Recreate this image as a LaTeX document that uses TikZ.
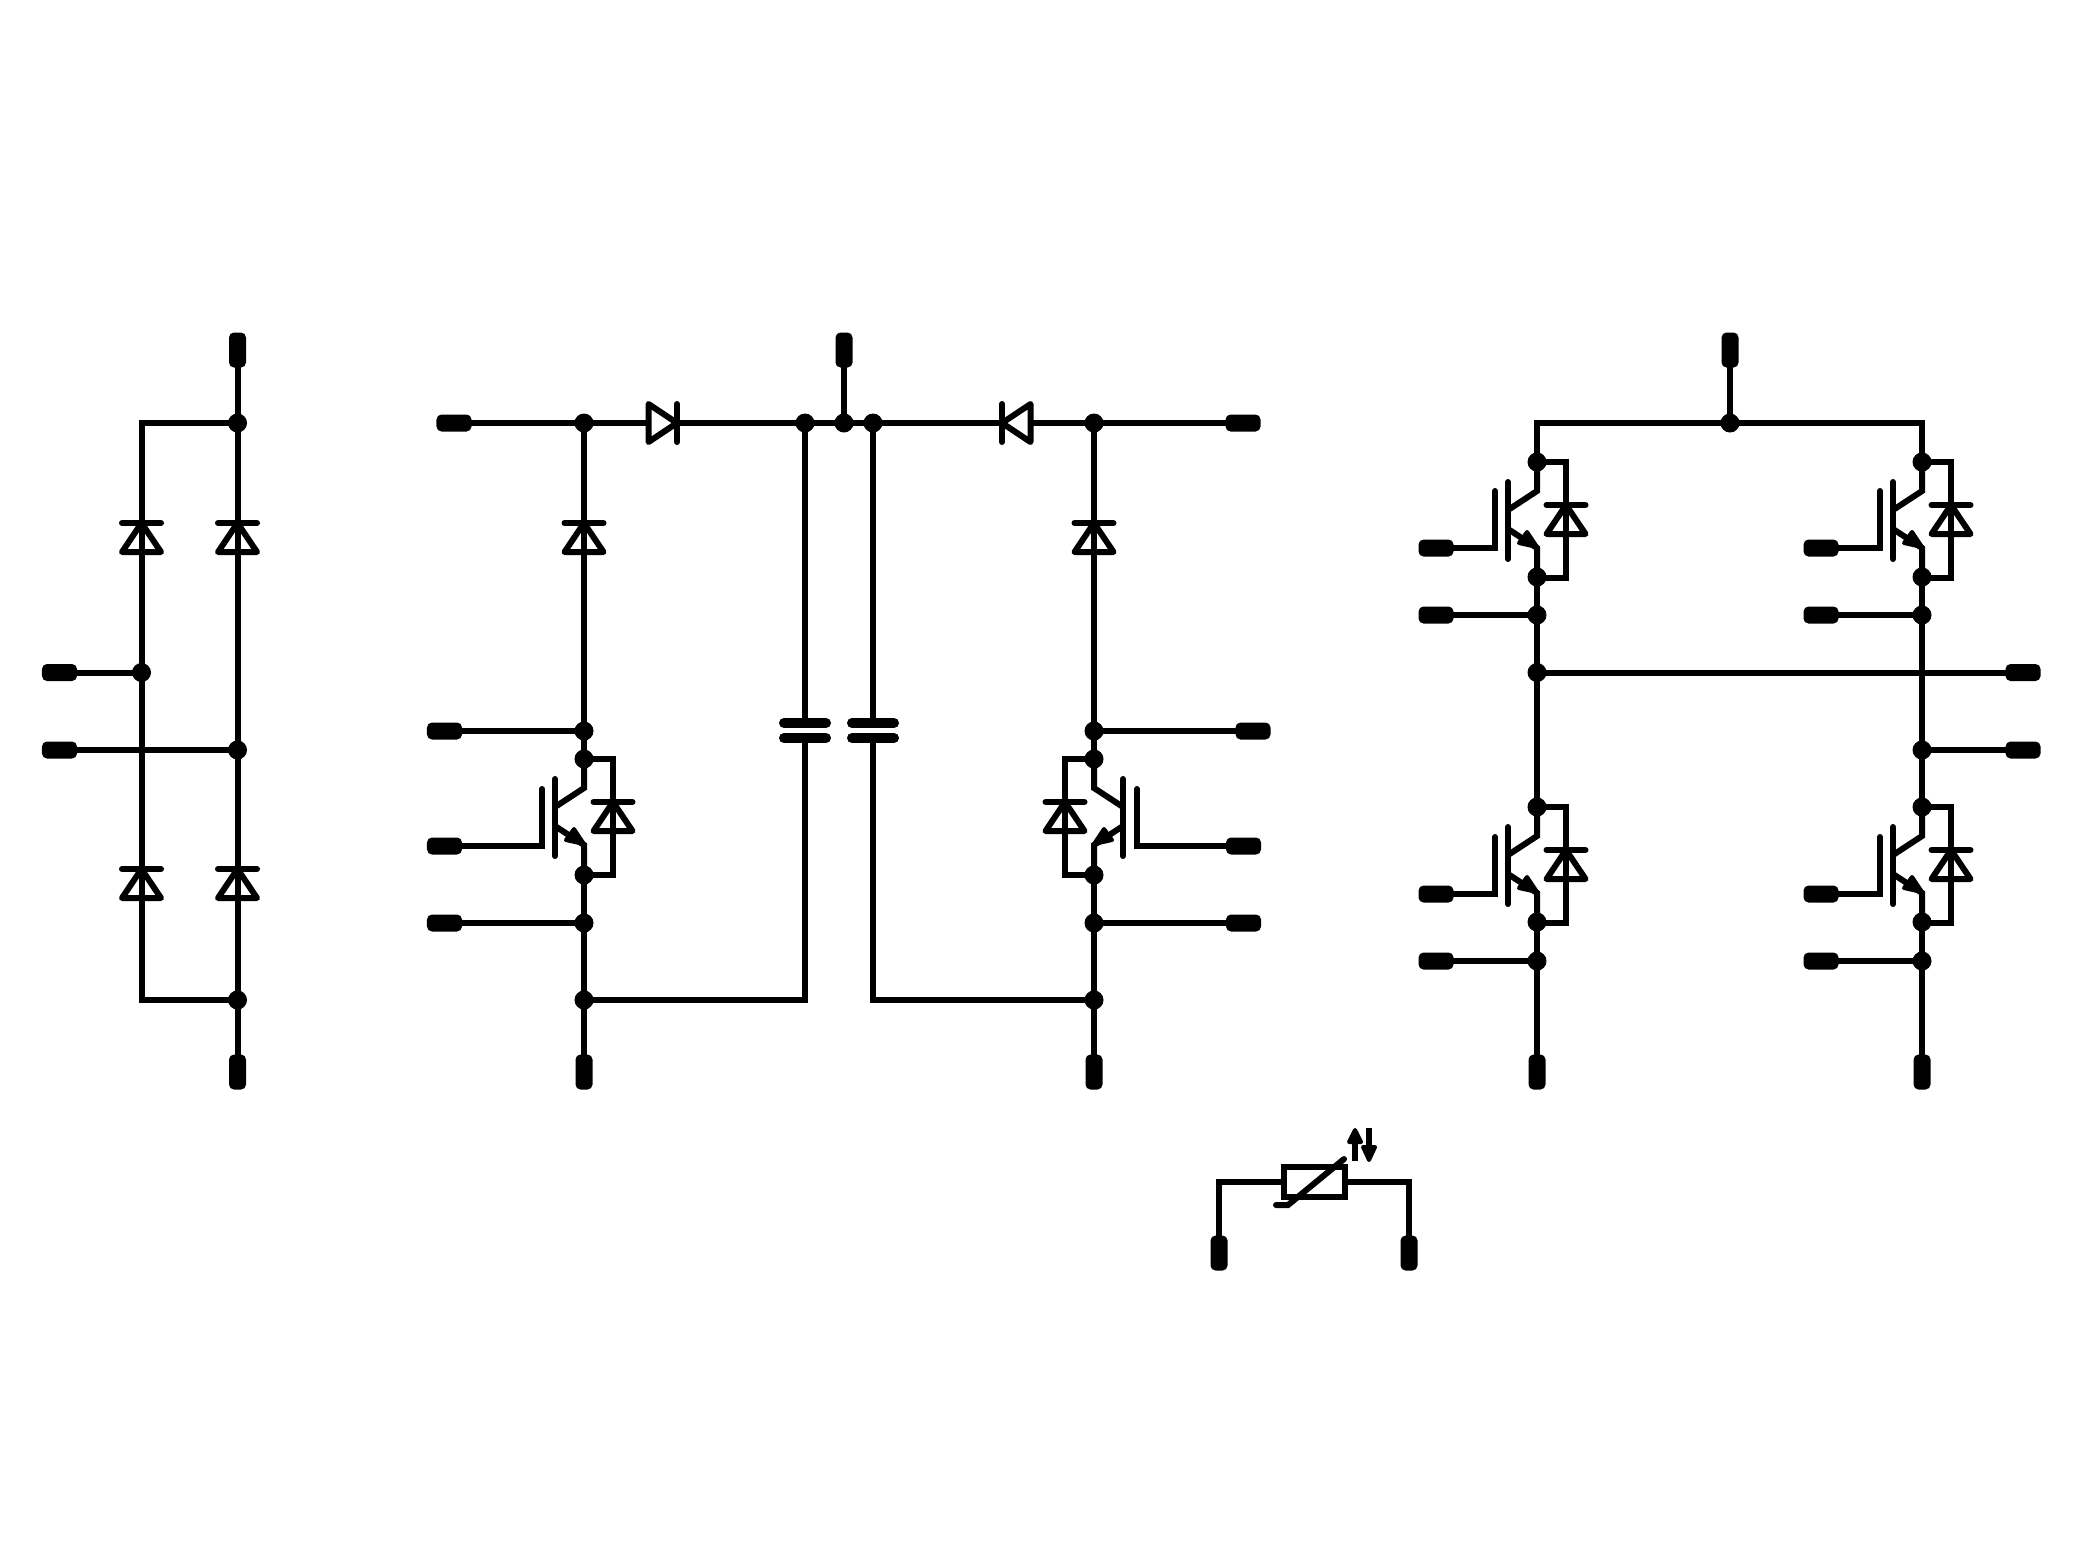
\documentclass[tikz,border=0pt]{standalone}
\usepackage{tikz}
\tikzset{
  x=0.01cm, y=-0.01cm,
  wire/.style={line width=0.06cm, black, line join=miter},
  dot/.style={circle, fill=black, minimum size=0.19cm, inner sep=0pt, outer sep=-0.03cm},
  padh/.style={rectangle, rounded corners=0.05cm, fill=black, minimum width=0.35cm, minimum height=0.17cm, inner sep=0pt, outer sep=-0.03cm},
  padv/.style={rectangle, rounded corners=0.05cm, fill=black, minimum width=0.17cm, minimum height=0.35cm, inner sep=0pt, outer sep=-0.03cm},
  % diode with the wire running through it, origin on the bar
  dio/.pic={
    \draw[wire, line cap=round] (-19.5,0) -- (19.5,0);
    \draw[wire, line join=round] (0,0) -- (-19.5,29) -- (19.5,29) -- cycle;
  },
  % origin on the collector dot, 116 above the emitter dot
  igbtcell/.pic={
    \draw[wire] (0,0) -- (0,29) -- (-29,48);
    \draw[wire, line cap=round] (-29,20) -- (-29,97);
    \draw[wire] (-29,67) -- (0,86) -- (0,116);
    \filldraw[black, line join=round, line width=0.04cm] (0,85) -- (-18,81) -- (-10,70) -- cycle;
    \draw[wire] (0,0) -- (29,0) -- (29,116) -- (0,116);
    \pic at (29,43) {dio};
  },
}
\begin{document}
\begin{tikzpicture}
  \useasboundingbox (0,0) rectangle (2080,1560);

  % rectifier
  \node[dot] (ra) at (237.5,423) {};
  \node[dot] (rb) at (141.5,672.5) {};
  \node[dot] (rc) at (237.5,750) {};
  \node[dot] (rd) at (237.5,1000) {};
  \node[padv] (rtop) at (237.5,350) {};
  \node[padv] (rbot) at (237.5,1072) {};
  \node[padh] (rin1) at (59.5,672.5) {};
  \node[padh] (rin2) at (59.5,750) {};
  \draw[wire] (rtop) -- (ra) -- (rc) -- (rd) -- (rbot);
  \draw[wire] (ra) -| (rb) |- (rd);
  \draw[wire] (rin1) -- (rb);
  \draw[wire] (rin2) -- (rc);
  \pic at (141.5,523) {dio};
  \pic at (237.5,523) {dio};
  \pic at (141.5,869) {dio};
  \pic at (237.5,869) {dio};

  % boost stage
  \node[dot] (ba) at (584,423) {};
  \node[dot] (bb) at (805,423) {};
  \node[dot] (bc) at (844,423) {};
  \node[dot] (bd) at (873,423) {};
  \node[dot] (be) at (1094,423) {};
  \node[dot] (bf) at (584,731) {};
  \node[dot] (bg) at (584,759) {};
  \node[dot] (bh) at (584,875) {};
  \node[dot] (bi) at (584,923) {};
  \node[dot] (bj) at (584,1000) {};
  \node[dot] (bk) at (1094,731) {};
  \node[dot] (bl) at (1094,759) {};
  \node[dot] (bm) at (1094,875) {};
  \node[dot] (bn) at (1094,923) {};
  \node[dot] (bo) at (1094,1000) {};
  \node[padh] (bp1) at (454,423) {};
  \node[padh] (bp2) at (1243,423) {};
  \node[padv] (bp3) at (844,350) {};
  \node[padh] (bp4) at (444.5,731) {};
  \node[padh] (bp5) at (444.5,846) {};
  \node[padh] (bp6) at (444.5,923) {};
  \node[padh] (bp7) at (1253,731) {};
  \node[padh] (bp8) at (1243.5,846) {};
  \node[padh] (bp9) at (1243.5,923) {};
  \node[padv] (bq1) at (584,1072) {};
  \node[padv] (bq2) at (1094,1072) {};
  \coordinate (capla) at (805,723);
  \coordinate (caplb) at (805,738);
  \coordinate (capra) at (873,723);
  \coordinate (caprb) at (873,738);
  \draw[wire] (bp1) -- (ba) -- (bb) -- (bc) -- (bd) -- (be) -- (bp2);
  \draw[wire] (bp3) -- (bc);
  \draw[wire] (ba) -- (bf) -- (bg);
  \draw[wire] (be) -- (bk) -- (bl);
  \draw[wire] (bh) -- (bi) -- (bj) -- (bq1);
  \draw[wire] (bm) -- (bn) -- (bo) -- (bq2);
  \draw[wire] (bp4) -- (bf);
  \draw[wire] (bp6) -- (bi);
  \draw[wire] (bp7) -- (bk);
  \draw[wire] (bp9) -- (bn);
  \draw[wire] (bb) -- (capla);
  \draw[wire] (bd) -- (capra);
  \draw[wire] (caplb) |- (bj);
  \draw[wire] (caprb) |- (bo);
  \foreach \c in {capla,caplb,capra,caprb}
    \draw[line width=0.10cm, line cap=round] ([xshift=-0.21cm]\c) -- ([xshift=0.21cm]\c);
  \pic at (584,523) {dio};
  \pic at (1094,523) {dio};
  \filldraw[wire, fill=white, line join=round] (648.5,404) -- (648.5,442) -- (677,423) -- cycle;
  \draw[wire, line cap=round] (677,404) -- (677,442);
  \filldraw[wire, fill=white, line join=round] (1030.5,404) -- (1030.5,442) -- (1002,423) -- cycle;
  \draw[wire, line cap=round] (1002,404) -- (1002,442);
  \pic at (584,759) {igbtcell};
  \pic[xscale=-1] at (1094,759) {igbtcell};
  \draw[wire, line cap=round] (bp5) -- (542,846) -- (542,789);
  \draw[wire, line cap=round] (bp8) -- (1137,846) -- (1137,789);

  % inverter
  \node[dot] (ia) at (1730,423) {};
  \node[dot] (ib) at (1537,672.5) {};
  \node[dot] (ic) at (1922,750) {};
  \node[padv] (ip1) at (1730,350) {};
  \node[padh] (ip2) at (2023,672.5) {};
  \node[padh] (ip3) at (2023,750) {};
  \foreach \n/\x in {l/1537,r/1922} {
    \node[dot] (\n1) at (\x,462) {};
    \node[dot] (\n2) at (\x,577) {};
    \node[dot] (\n3) at (\x,615) {};
    \node[dot] (\n4) at (\x,807) {};
    \node[dot] (\n5) at (\x,922) {};
    \node[dot] (\n6) at (\x,961) {};
    \node[padv] (\n7) at (\x,1072) {};
    \pic at (\n1) {igbtcell};
    \pic at (\n4) {igbtcell};
    \draw[wire] (\n2) -- (\n3);
    \draw[wire] (\n5) -- (\n6) -- (\n7);
    \draw[wire] (\n3) -- (\n4);
  }
  \draw[wire] (ia) -| (l1);
  \draw[wire] (ia) -| (r1);
  \draw[wire] (ip1) -- (ia);
  \draw[wire] (ib) -- (ip2);
  \draw[wire] (ic) -- (ip3);
  \foreach \n/\x in {l/1436,r/1821} {
    \node[padh] (\n g1) at (\x,548) {};
    \node[padh] (\n e1) at (\x,615) {};
    \node[padh] (\n g2) at (\x,894) {};
    \node[padh] (\n e2) at (\x,961) {};
    \draw[wire] (\n e1) -- (\n 3);
    \draw[wire] (\n e2) -- (\n 6);
  }
  \draw[wire, line cap=round] (lg1) -- (1495,548) -- (1495,491);
  \draw[wire, line cap=round] (rg1) -- (1880,548) -- (1880,491);
  \draw[wire, line cap=round] (lg2) -- (1495,894) -- (1495,837);
  \draw[wire, line cap=round] (rg2) -- (1880,894) -- (1880,837);

  % thermistor
  \node[padv] (ta) at (1219,1253) {};
  \node[padv] (tb) at (1409,1253) {};
  \node[draw, line width=0.06cm, minimum width=0.61cm, minimum height=0.30cm, inner sep=0pt] (tr) at (1314.5,1182) {};
  \draw[wire] (ta) |- (tr);
  \draw[wire] (tb) |- (tr);
  \draw[wire, line cap=round] (1276,1205) -- (1288,1205) -- (1344,1159);
  \draw[wire] (1355,1161) -- (1355,1140);
  \filldraw[line join=round, line width=0.04cm] (1349,1142) -- (1355,1130) -- (1361,1142) -- cycle;
  \draw[wire] (1369,1128) -- (1369,1150);
  \filldraw[line join=round, line width=0.04cm] (1363,1147) -- (1369,1160) -- (1375,1147) -- cycle;
\end{tikzpicture}
\end{document}
